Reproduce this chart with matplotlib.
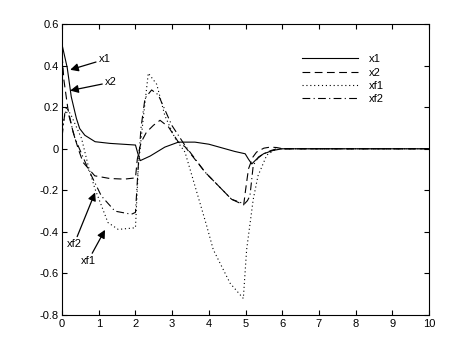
import matplotlib
matplotlib.use("Agg")
import matplotlib.pyplot as plt

plt.rcParams['font.family'] = ['Liberation Sans', 'DejaVu Sans']

# x1 (solid)
t_x1 = [0, 0.14, 0.25, 0.39, 0.48, 0.62, 0.9, 1.3, 2.0, 2.06, 2.13, 2.4, 2.8, 3.17, 3.62,
        4.0, 4.71, 4.99, 5.08, 5.17, 5.3, 5.49, 5.75, 6.0, 10]
y_x1 = [0.5, 0.39, 0.25, 0.146, 0.097, 0.065, 0.034, 0.026, 0.018, -0.02, -0.057, -0.035,
        0.008, 0.032, 0.032, 0.022, -0.013, -0.024, -0.05, -0.073, -0.05, -0.024, -0.008, 0.0, 0.0]

# x2 (dashed)
t_x2 = [0, 0.05, 0.16, 0.3, 0.44, 0.57, 0.89, 1.3, 1.7, 2.0, 2.05, 2.15, 2.3, 2.49, 2.67,
        2.9, 3.17, 3.35, 3.9, 4.62, 4.95, 5.0, 5.08, 5.2, 5.3, 5.5, 5.67, 5.85, 6.02, 10]
y_x2 = [0.45, 0.33, 0.19, 0.08, 0.0, -0.065, -0.13, -0.143, -0.146, -0.14, -0.05, 0.03,
        0.08, 0.113, 0.137, 0.105, 0.032, 0.01, -0.113, -0.243, -0.27, -0.2, -0.097, -0.04,
        -0.016, 0.003, 0.008, 0.006, 0.0, 0.0]

# xf1 (dotted)
t_xf1 = [0, 0.12, 0.25, 0.53, 0.71, 0.89, 1.25, 1.53, 2.0, 2.08, 2.22, 2.35, 2.58, 2.8,
         3.08, 3.35, 3.94, 4.12, 4.58, 4.94, 5.03, 5.21, 5.34, 5.58, 5.8, 5.98, 10]
y_xf1 = [0.1, 0.2, 0.16, 0.05, -0.08, -0.19, -0.355, -0.388, -0.38, -0.08, 0.16, 0.364,
         0.31, 0.16, 0.05, -0.016, -0.37, -0.485, -0.647, -0.72, -0.485, -0.243, -0.13,
         -0.03, -0.005, 0.0, 0.0]

# xf2 (dash-dot)
t_xf2 = [0, 0.08, 0.17, 0.35, 0.71, 1.07, 1.44, 1.89, 2.0, 2.07, 2.15, 2.26, 2.44, 2.62,
         2.99, 3.35, 3.9, 4.62, 4.97, 5.05, 5.12, 5.21, 5.35, 5.49, 5.7, 5.85, 10]
y_xf2 = [0.06, 0.18, 0.17, 0.05, -0.097, -0.227, -0.3, -0.315, -0.306, -0.1, 0.1, 0.243,
         0.283, 0.26, 0.113, 0.016, -0.113, -0.243, -0.265, -0.25, -0.227, -0.08, -0.04,
         -0.024, -0.008, 0.0, 0.0]

fig = plt.figure(figsize=(4.74, 3.54), dpi=100)
ax = fig.add_axes([0.131, 0.110, 0.774, 0.822])

lw = 0.8
ax.plot(t_x1, y_x1, color='black', lw=lw, linestyle='-', label='x1')
ax.plot(t_x2, y_x2, color='black', lw=lw, linestyle=(0, (7, 4)), label='x2')
ax.plot(t_xf1, y_xf1, color='black', lw=lw, linestyle=(0, (1, 2.5)), label='xf1')
ax.plot(t_xf2, y_xf2, color='black', lw=lw, linestyle=(0, (7, 3, 1, 3)), label='xf2')

ax.set_xlim(0, 10)
ax.set_ylim(-0.8, 0.6)
ax.set_xticks(range(0, 11))
ax.set_yticks([-0.8, -0.6, -0.4, -0.2, 0, 0.2, 0.4, 0.6])
ax.set_yticklabels(['-0.8', '-0.6', '-0.4', '-0.2', '0', '0.2', '0.4', '0.6'])
ax.tick_params(direction='in', top=True, right=True, length=3.5, width=0.8,
               labelsize=8, pad=2.5)
for s in ax.spines.values():
    s.set_linewidth(0.8)

ax.legend(loc='upper left', bbox_to_anchor=(0.64, 0.915), frameon=False,
          handlelength=5.0, labelspacing=0.3, fontsize=8, borderpad=0,
          handletextpad=1.0)

arrow = dict(arrowstyle='-|>', color='black', lw=0.9, mutation_scale=12,
             shrinkA=0, shrinkB=0)
ax.annotate('x1', xy=(0.22, 0.38), xytext=(1.0, 0.43), fontsize=8,
            va='center', ha='left', arrowprops=arrow)
ax.annotate('x2', xy=(0.22, 0.28), xytext=(1.17, 0.32), fontsize=8,
            va='center', ha='left', arrowprops=arrow)
ax.annotate('xf2', xy=(0.9, -0.21), xytext=(0.12, -0.46), fontsize=8,
            va='center', ha='left', arrowprops=arrow)
ax.annotate('xf1', xy=(1.17, -0.39), xytext=(0.5, -0.54), fontsize=8,
            va='center', ha='left', arrowprops=arrow)

fig.savefig('out.png', dpi=100)
